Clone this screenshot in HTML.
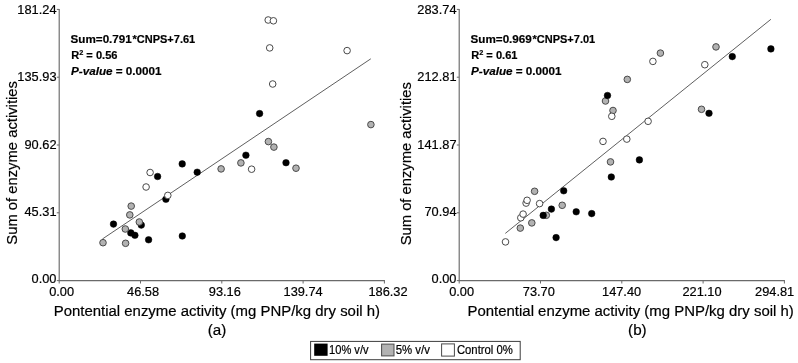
<!DOCTYPE html>
<html lang="en"><head><meta charset="utf-8"><title>Enzyme activity scatter plots</title>
<style>html,body{margin:0;padding:0;background:#fff;}svg{display:block;}text{font-family:"Liberation Sans", sans-serif;fill:#000;stroke:#000;stroke-width:0.2px;}.tk{font-size:12.8px;}.ax{font-size:15.2px;}.an{font-size:11.8px;font-weight:bold;}.lg{font-size:12.3px;}.k{fill:#000;stroke:#000;}.g{fill:#b2b2b2;stroke:#4a4a4a;}.w{fill:#fff;stroke:#4a4a4a;}circle{stroke-width:1;}.k{stroke-width:0.5;}</style></head><body>
<svg width="798" height="363" viewBox="0 0 798 363">
<rect x="0" y="0" width="798" height="363" fill="#fff"/>
<g>
<path d="M59.20 8.90V281.15M58.70 280.60H384.90" stroke="#6a6a6a" stroke-width="1.15" fill="none"/>
<path d="M56.80 9.40H59.20M56.80 77.20H59.20M56.80 145.00H59.20M56.80 212.80H59.20M56.80 280.60H59.20M59.20 280.60V283.50M140.50 280.60V283.50M221.80 280.60V283.50M303.10 280.60V283.50M384.40 280.60V283.50" stroke="#6a6a6a" stroke-width="1" fill="none"/>
<text class="tk" x="56.50" y="13.85" text-anchor="end">181.24</text>
<text class="tk" x="56.50" y="81.25" text-anchor="end">135.93</text>
<text class="tk" x="56.50" y="148.65" text-anchor="end">90.62</text>
<text class="tk" x="56.50" y="216.05" text-anchor="end">45.31</text>
<text class="tk" x="56.50" y="283.45" text-anchor="end">0.00</text>
<text class="tk" x="61.65" y="295.6" text-anchor="middle">0.00</text>
<text class="tk" x="143.10" y="295.6" text-anchor="middle">46.58</text>
<text class="tk" x="224.80" y="295.6" text-anchor="middle">93.16</text>
<text class="tk" x="303.10" y="295.6" text-anchor="middle">139.74</text>
<text class="tk" x="388.00" y="295.6" text-anchor="middle">186.32</text>
<text class="ax" x="53.70" y="315.9" textLength="326.3" lengthAdjust="spacingAndGlyphs">Pontential enzyme activity (mg PNP/kg dry soil h)</text>
<text class="ax" x="217.00" y="335.2" text-anchor="middle">(a)</text>
<text class="ax" transform="translate(17.30 244.70) rotate(-90)" textLength="163.60" lengthAdjust="spacingAndGlyphs">Sum of enzyme activities</text>
<text class="an" x="70.60" y="43.2"><tspan textLength="61.2" lengthAdjust="spacingAndGlyphs">Sum=0.791</tspan><tspan x="132.50" textLength="62.7" lengthAdjust="spacingAndGlyphs">*CNPS+7.61</tspan></text>
<text class="an" x="71.20" y="58.7" textLength="46.3" lengthAdjust="spacingAndGlyphs">R<tspan font-size="7.8" dy="-3.8">2</tspan><tspan dy="3.8"> = 0.56</tspan></text>
<text class="an" x="71.00" y="74.8" textLength="90.6" lengthAdjust="spacingAndGlyphs"><tspan font-style="italic">P-value</tspan> = 0.0001</text>
<line x1="102.4" y1="239.0" x2="370.8" y2="58.8" stroke="#4d4d4d" stroke-width="0.9"/>
<circle class="k" cx="259.6" cy="113.6" r="3.3"/>
<circle class="k" cx="245.9" cy="155.2" r="3.3"/>
<circle class="k" cx="286.0" cy="162.7" r="3.3"/>
<circle class="k" cx="182.2" cy="163.9" r="3.3"/>
<circle class="k" cx="157.6" cy="176.5" r="3.3"/>
<circle class="k" cx="197.2" cy="172.2" r="3.3"/>
<circle class="k" cx="165.9" cy="199.3" r="3.3"/>
<circle class="k" cx="113.5" cy="224.1" r="3.3"/>
<circle class="k" cx="141.3" cy="225.1" r="3.3"/>
<circle class="k" cx="130.8" cy="232.9" r="3.3"/>
<circle class="k" cx="134.9" cy="235.3" r="3.3"/>
<circle class="k" cx="182.3" cy="236.0" r="3.3"/>
<circle class="k" cx="148.6" cy="239.8" r="3.3"/>
<circle class="g" cx="370.9" cy="124.6" r="3.3"/>
<circle class="g" cx="268.4" cy="141.6" r="3.3"/>
<circle class="g" cx="273.9" cy="147.1" r="3.3"/>
<circle class="g" cx="240.9" cy="162.9" r="3.3"/>
<circle class="g" cx="221.1" cy="168.9" r="3.3"/>
<circle class="g" cx="296.0" cy="168.2" r="3.3"/>
<circle class="g" cx="131.2" cy="206.1" r="3.3"/>
<circle class="g" cx="129.8" cy="214.9" r="3.3"/>
<circle class="g" cx="139.3" cy="222.0" r="3.3"/>
<circle class="g" cx="125.3" cy="229.0" r="3.3"/>
<circle class="g" cx="103.0" cy="242.7" r="3.3"/>
<circle class="g" cx="125.6" cy="243.3" r="3.3"/>
<circle class="w" cx="268.2" cy="20.0" r="3.3"/>
<circle class="w" cx="273.4" cy="20.8" r="3.3"/>
<circle class="w" cx="269.7" cy="47.9" r="3.3"/>
<circle class="w" cx="347.1" cy="50.6" r="3.3"/>
<circle class="w" cx="272.7" cy="84.0" r="3.3"/>
<circle class="w" cx="251.6" cy="169.2" r="3.3"/>
<circle class="w" cx="150.1" cy="172.5" r="3.3"/>
<circle class="w" cx="146.1" cy="187.0" r="3.3"/>
<circle class="w" cx="167.8" cy="195.4" r="3.3"/>
</g>
<g>
<path d="M459.20 8.90V281.15M458.70 280.60H784.90" stroke="#6a6a6a" stroke-width="1.15" fill="none"/>
<path d="M456.80 9.40H459.20M456.80 77.20H459.20M456.80 145.00H459.20M456.80 212.80H459.20M456.80 280.60H459.20M459.20 280.60V283.50M540.50 280.60V283.50M621.80 280.60V283.50M703.10 280.60V283.50M784.40 280.60V283.50" stroke="#6a6a6a" stroke-width="1" fill="none"/>
<text class="tk" x="456.50" y="13.85" text-anchor="end">283.74</text>
<text class="tk" x="456.50" y="81.25" text-anchor="end">212.81</text>
<text class="tk" x="456.50" y="148.65" text-anchor="end">141.87</text>
<text class="tk" x="456.50" y="216.05" text-anchor="end">70.94</text>
<text class="tk" x="456.50" y="283.45" text-anchor="end">0.00</text>
<text class="tk" x="461.65" y="295.6" text-anchor="middle">0.00</text>
<text class="tk" x="538.85" y="295.6" text-anchor="middle">73.70</text>
<text class="tk" x="621.60" y="295.6" text-anchor="middle">147.40</text>
<text class="tk" x="702.00" y="295.6" text-anchor="middle">221.10</text>
<text class="tk" x="794.20" y="295.6" text-anchor="end">294.81</text>
<text class="ax" x="467.50" y="315.9" textLength="326.3" lengthAdjust="spacingAndGlyphs">Pontential enzyme activity (mg PNP/kg dry soil h)</text>
<text class="ax" x="637.40" y="335.2" text-anchor="middle">(b)</text>
<text class="ax" transform="translate(410.55 245.25) rotate(-90)" textLength="163.10" lengthAdjust="spacingAndGlyphs">Sum of enzyme activities</text>
<text class="an" x="470.60" y="43.2"><tspan textLength="61.2" lengthAdjust="spacingAndGlyphs">Sum=0.969</tspan><tspan x="532.50" textLength="62.7" lengthAdjust="spacingAndGlyphs">*CNPS+7.01</tspan></text>
<text class="an" x="471.20" y="58.7" textLength="46.3" lengthAdjust="spacingAndGlyphs">R<tspan font-size="7.8" dy="-3.8">2</tspan><tspan dy="3.8"> = 0.61</tspan></text>
<text class="an" x="471.00" y="74.8" textLength="90.6" lengthAdjust="spacingAndGlyphs"><tspan font-style="italic">P-value</tspan> = 0.0001</text>
<line x1="505.3" y1="233.4" x2="770.9" y2="19.3" stroke="#4d4d4d" stroke-width="0.9"/>
<circle class="g" cx="660.4" cy="53.1" r="3.3"/>
<circle class="g" cx="627.3" cy="79.4" r="3.3"/>
<circle class="g" cx="716.0" cy="46.9" r="3.3"/>
<circle class="g" cx="605.5" cy="101.0" r="3.3"/>
<circle class="g" cx="613.0" cy="110.5" r="3.3"/>
<circle class="g" cx="701.5" cy="109.3" r="3.3"/>
<circle class="g" cx="610.5" cy="161.9" r="3.3"/>
<circle class="g" cx="534.6" cy="191.3" r="3.3"/>
<circle class="g" cx="562.2" cy="205.3" r="3.3"/>
<circle class="g" cx="546.3" cy="215.3" r="3.3"/>
<circle class="g" cx="531.8" cy="222.9" r="3.3"/>
<circle class="g" cx="520.3" cy="228.1" r="3.3"/>
<circle class="k" cx="732.3" cy="56.6" r="3.3"/>
<circle class="k" cx="770.9" cy="48.9" r="3.3"/>
<circle class="k" cx="607.5" cy="95.5" r="3.3"/>
<circle class="k" cx="709.0" cy="113.3" r="3.3"/>
<circle class="k" cx="639.4" cy="159.9" r="3.3"/>
<circle class="k" cx="611.3" cy="177.0" r="3.3"/>
<circle class="k" cx="563.7" cy="190.8" r="3.3"/>
<circle class="k" cx="551.4" cy="209.1" r="3.3"/>
<circle class="k" cx="576.2" cy="211.8" r="3.3"/>
<circle class="k" cx="591.7" cy="213.6" r="3.3"/>
<circle class="k" cx="543.2" cy="215.4" r="3.3"/>
<circle class="k" cx="556.1" cy="237.6" r="3.3"/>
<circle class="w" cx="652.9" cy="61.4" r="3.3"/>
<circle class="w" cx="704.8" cy="64.7" r="3.3"/>
<circle class="w" cx="611.8" cy="116.3" r="3.3"/>
<circle class="w" cx="648.1" cy="121.3" r="3.3"/>
<circle class="w" cx="626.8" cy="139.1" r="3.3"/>
<circle class="w" cx="603.0" cy="141.4" r="3.3"/>
<circle class="w" cx="526.1" cy="203.1" r="3.3"/>
<circle class="w" cx="527.1" cy="200.3" r="3.3"/>
<circle class="w" cx="539.6" cy="203.6" r="3.3"/>
<circle class="w" cx="520.8" cy="217.8" r="3.3"/>
<circle class="w" cx="523.1" cy="214.1" r="3.3"/>
<circle class="w" cx="505.5" cy="241.9" r="3.3"/>
</g>
<g>
<rect x="310.6" y="341.4" width="209.6" height="18.3" fill="#fff" stroke="#3c3c3c" stroke-width="1"/>
<rect x="314.2" y="343.6" width="13.4" height="12.2" fill="#000"/>
<text class="lg" x="329.0" y="353.8" textLength="39.6" lengthAdjust="spacingAndGlyphs">10% v/v</text>
<rect x="381.6" y="344.1" width="12.4" height="11.8" fill="#b2b2b2" stroke="#4a4a4a" stroke-width="1"/>
<text class="lg" x="395.7" y="353.8" textLength="34.2" lengthAdjust="spacingAndGlyphs">5% v/v</text>
<rect x="441.6" y="343.9" width="12.8" height="12.2" fill="#fff" stroke="#4a4a4a" stroke-width="1"/>
<text class="lg" x="456.9" y="353.8" textLength="56.0" lengthAdjust="spacingAndGlyphs">Control 0%</text>
</g>
</svg></body></html>
